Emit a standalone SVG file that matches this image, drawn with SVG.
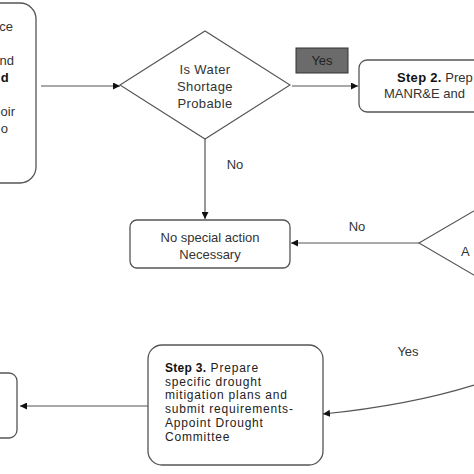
<svg xmlns="http://www.w3.org/2000/svg" width="474" height="474" viewBox="0 0 474 474">
<defs>
<marker id="ah" viewBox="0 0 10 10" refX="10" refY="5" markerWidth="7" markerHeight="7" markerUnits="userSpaceOnUse" orient="auto">
<path d="M0,0 L10,5 L0,10 z" fill="#111"/>
</marker>
<style>
.box{fill:#fff;stroke:#555;stroke-width:1.3}
.dia{fill:#fff;stroke:#555;stroke-width:1.1}
.t{font-family:"Liberation Sans",Arial,sans-serif;font-size:13px;fill:#333}
.s3{font-size:12px;letter-spacing:0.8px;fill:#222}
.c{text-anchor:middle}
.b{font-weight:bold;fill:#111;letter-spacing:0.3px}
.ln{fill:none;stroke:#555;stroke-width:1.2;marker-end:url(#ah)}
</style>
</defs>
<rect width="474" height="474" fill="#fff"/>
<g id="n-start">
<rect class="box" x="-60" y="3" width="96" height="180" rx="16"/>
<text class="t" x="13" y="31" text-anchor="end">ce</text>
<text class="t" x="14" y="65" text-anchor="end">nd</text>
<text class="t b" x="9" y="82" text-anchor="end">d</text>
<text class="t" x="15" y="116" text-anchor="end">oir</text>
<text class="t" x="8" y="133" text-anchor="end">o</text>
</g>
<g id="n-shortage">
<polygon class="dia" points="120,85 205,31 290,85 205,139"/>
<text class="t c" x="205" y="74" letter-spacing="0.4">Is Water</text>
<text class="t c" x="205" y="91" letter-spacing="0.4">Shortage</text>
<text class="t c" x="205" y="108" letter-spacing="0.4">Probable</text>
</g>
<g id="n-yes1">
<rect x="296" y="48" width="52" height="25" fill="#6b6b6b" stroke="#333" stroke-width="1"/>
<text class="t c" x="322" y="65" style="fill:#222">Yes</text>
</g>
<g id="n-step2">
<rect class="box" x="359" y="60" width="160" height="52" rx="8"/>
<text class="t" x="397" y="82"><tspan class="b">Step 2.</tspan> Prep</text>
<text class="t" x="384" y="98">MANR&amp;E and</text>
</g>
<g id="n-nospecial">
<rect class="box" x="130" y="220" width="160" height="48" rx="7"/>
<text class="t c" x="210" y="242">No special action</text>
<text class="t c" x="210" y="259">Necessary</text>
</g>
<g id="n-decision2">
<polygon class="dia" points="419,243 510,190 600,243 510,296"/>
<text class="t" x="461" y="256">A</text>
</g>
<g id="n-step3">
<rect class="box" x="148" y="345" width="175" height="120" rx="14"/>
<text class="t s3" x="165" y="372"><tspan class="b">Step 3.</tspan> Prepare</text>
<text class="t s3" x="165" y="386">specific drought</text>
<text class="t s3" x="165" y="399">mitigation plans and</text>
<text class="t s3" x="165" y="413">submit requirements-</text>
<text class="t s3" x="165" y="427">Appoint Drought</text>
<text class="t s3" x="165" y="441">Committee</text>
</g>
<g id="n-end">
<rect class="box" x="-60" y="373" width="77" height="65" rx="8"/>
</g>
<g id="connectors">
<path class="ln" d="M41,86 L120,86"/>
<path class="ln" d="M292,86 L358,86"/>
<path class="ln" d="M205,139 L205,219"/>
<path class="ln" d="M419,243 L291,243"/>
<path class="ln" d="M148,406 L20,406"/>
<path class="ln" d="M474,385 Q410,405 323,414"/>
<text class="t c" x="235" y="169">No</text>
<text class="t c" x="357" y="231">No</text>
<text class="t c" x="408" y="356">Yes</text>
</g>
</svg>
